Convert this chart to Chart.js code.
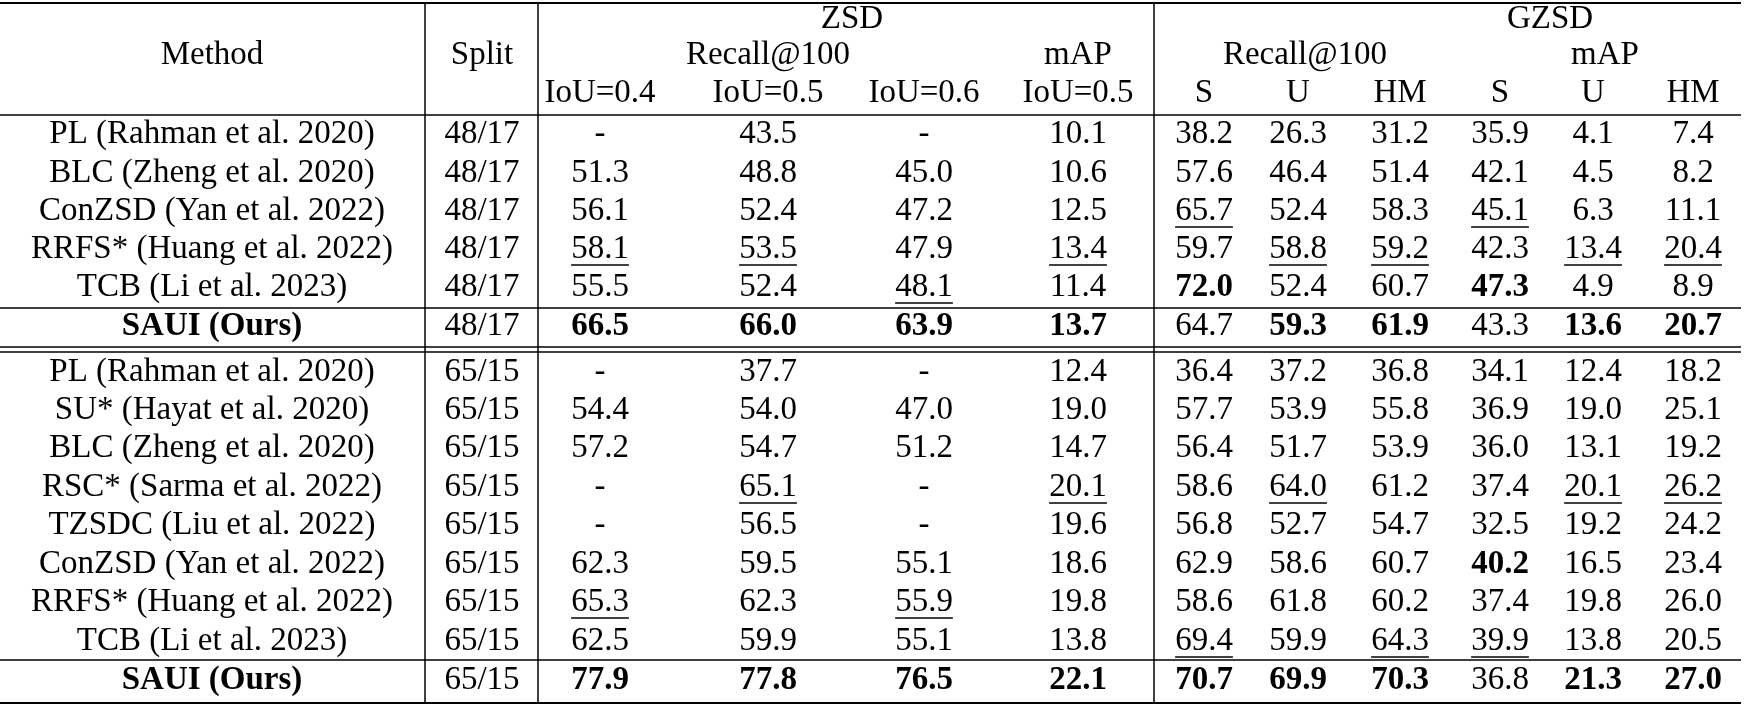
<!DOCTYPE html>
<html lang="en">
<head>
<meta charset="UTF-8">
<title>ZSD / GZSD results table</title>
<script src="https://cdn.jsdelivr.net/npm/chart.js/dist/chart.umd.min.js"></script>
<style>
  html, body { margin: 0; padding: 0; background: white; }
  #box { width: 1746px; height: 707px; }
</style>
</head>
<body>
<div id="box"><canvas id="tbl"></canvas></div>
<script>
// ---- data ("*" = bold, "_" = underlined) ----
const methods48 = ['PL (Rahman et al. 2020)', 'BLC (Zheng et al. 2020)', 'ConZSD (Yan et al. 2022)',
  'RRFS* (Huang et al. 2022)', 'TCB (Li et al. 2023)'];
const values48 = [
  ['-', '43.5', '-', '10.1', '38.2', '26.3', '31.2', '35.9', '4.1', '7.4'],
  ['51.3', '48.8', '45.0', '10.6', '57.6', '46.4', '51.4', '42.1', '4.5', '8.2'],
  ['56.1', '52.4', '47.2', '12.5', '_65.7', '52.4', '58.3', '_45.1', '6.3', '11.1'],
  ['_58.1', '_53.5', '47.9', '_13.4', '59.7', '_58.8', '_59.2', '42.3', '_13.4', '_20.4'],
  ['55.5', '52.4', '_48.1', '11.4', '*72.0', '52.4', '60.7', '*47.3', '4.9', '8.9']
];
const ours48 = ['*66.5', '*66.0', '*63.9', '*13.7', '64.7', '*59.3', '*61.9', '43.3', '*13.6', '*20.7'];

const methods65 = ['PL (Rahman et al. 2020)', 'SU* (Hayat et al. 2020)', 'BLC (Zheng et al. 2020)',
  'RSC* (Sarma et al. 2022)', 'TZSDC (Liu et al. 2022)', 'ConZSD (Yan et al. 2022)',
  'RRFS* (Huang et al. 2022)', 'TCB (Li et al. 2023)'];
const values65 = [
  ['-', '37.7', '-', '12.4', '36.4', '37.2', '36.8', '34.1', '12.4', '18.2'],
  ['54.4', '54.0', '47.0', '19.0', '57.7', '53.9', '55.8', '36.9', '19.0', '25.1'],
  ['57.2', '54.7', '51.2', '14.7', '56.4', '51.7', '53.9', '36.0', '13.1', '19.2'],
  ['-', '_65.1', '-', '_20.1', '58.6', '_64.0', '61.2', '37.4', '_20.1', '_26.2'],
  ['-', '56.5', '-', '19.6', '56.8', '52.7', '54.7', '32.5', '19.2', '24.2'],
  ['62.3', '59.5', '55.1', '18.6', '62.9', '58.6', '60.7', '*40.2', '16.5', '23.4'],
  ['_65.3', '62.3', '_55.9', '19.8', '58.6', '61.8', '60.2', '37.4', '19.8', '26.0'],
  ['62.5', '59.9', '55.1', '13.8', '_69.4', '59.9', '_64.3', '_39.9', '13.8', '20.5']
];
const ours65 = ['*77.9', '*77.8', '*76.5', '*22.1', '*70.7', '*69.9', '*70.3', '36.8', '*21.3', '*27.0'];

const oursName = '*SAUI (Ours)';
const splits = ['48/17', '65/15'];
const subHeads = ['IoU=0.4', 'IoU=0.5', 'IoU=0.6', 'IoU=0.5', 'S', 'U', 'HM', 'S', 'U', 'HM'];

// ---- layout (pixel units of the scales) ----
const colX = [212, 482, 600, 768, 924, 1078, 1204, 1298, 1400, 1500, 1593, 1693];
const rows48 = [134, 173, 211, 249, 287], ours48Y = 326;
const rows65 = [372, 410, 448, 487, 525, 564, 602, 641], ours65Y = 680;
const FONT = '"Liberation Serif", "Times New Roman", serif';
const SIZE = 33;

const cells = [];
function add(x, y, s) {
  let bold = false, under = false;
  if (s[0] === '*') { bold = true; s = s.slice(1); }
  if (s[0] === '_') { under = true; s = s.slice(1); }
  cells.push({ x, y, s, bold, under });
}
// headers
add(852, 19, 'ZSD'); add(1550, 19, 'GZSD');
add(colX[0], 55, 'Method'); add(colX[1], 55, 'Split');
add(768, 55, 'Recall@100'); add(1078, 55, 'mAP');
add(1305, 55, 'Recall@100'); add(1605, 55, 'mAP');
subHeads.forEach((h, i) => add(colX[i + 2], 93, h));
// body
function block(methods, vals, ours, split, ys, oy) {
  methods.forEach((m, r) => {
    add(colX[0], ys[r], m); add(colX[1], ys[r], split);
    vals[r].forEach((v, c) => add(colX[c + 2], ys[r], v));
  });
  add(colX[0], oy, oursName); add(colX[1], oy, split);
  ours.forEach((v, c) => add(colX[c + 2], oy, v));
}
block(methods48, values48, ours48, splits[0], rows48, ours48Y);
block(methods65, values65, ours65, splits[1], rows65, ours65Y);

const hLines = [[3, 2], [115, 1.5], [308, 1.5], [347, 1.5], [352, 1.5], [660, 1.5], [703, 2]];
const vLines = [425, 538, 1154];

const tablePlugin = {
  id: 'tablePlugin',
  afterDraw(chart) {
    const { ctx, scales: { x, y } } = chart;
    ctx.save();
    ctx.strokeStyle = '#000';
    hLines.forEach(([yy, w]) => {
      ctx.lineWidth = w;
      ctx.beginPath(); ctx.moveTo(x.getPixelForValue(0), y.getPixelForValue(yy));
      ctx.lineTo(x.getPixelForValue(1741), y.getPixelForValue(yy)); ctx.stroke();
    });
    ctx.lineWidth = 1.5;
    vLines.forEach(xx => {
      ctx.beginPath(); ctx.moveTo(x.getPixelForValue(xx), y.getPixelForValue(3));
      ctx.lineTo(x.getPixelForValue(xx), y.getPixelForValue(703)); ctx.stroke();
    });
    ctx.fillStyle = '#000';
    ctx.textAlign = 'center'; ctx.textBaseline = 'middle';
    cells.forEach(c => {
      ctx.font = (c.bold ? 'bold ' : '') + SIZE + 'px ' + FONT;
      const px = x.getPixelForValue(c.x), py = y.getPixelForValue(c.y);
      ctx.fillText(c.s, px, py);
      if (c.under) {
        const w = ctx.measureText(c.s).width;
        ctx.lineWidth = 1.3;
        ctx.beginPath(); ctx.moveTo(px - w / 2, py + 16); ctx.lineTo(px + w / 2, py + 16); ctx.stroke();
      }
    });
    ctx.restore();
  }
};

new Chart(document.getElementById('tbl'), {
  type: 'scatter',
  data: { datasets: [{ data: [] }] },
  options: {
    responsive: true, maintainAspectRatio: false, animation: false,
    layout: { padding: 0 },
    plugins: { legend: { display: false }, tooltip: { enabled: false } },
    scales: {
      x: { type: 'linear', min: 0, max: 1746, display: false },
      y: { type: 'linear', min: 0, max: 707, reverse: true, display: false }
    }
  },
  plugins: [tablePlugin]
});
</script>
</body>
</html>
